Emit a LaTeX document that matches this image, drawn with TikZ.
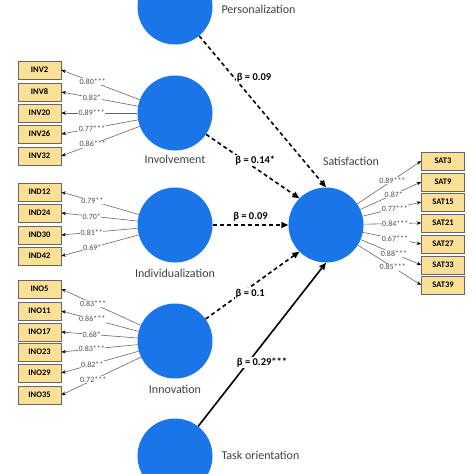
\documentclass[tikz,border=0pt]{standalone}
\usepackage{fontspec}
\setmainfont{Carlito}
\usetikzlibrary{arrows.meta}
\definecolor{lvblue}{RGB}{26,118,232}
\definecolor{mvfill}{RGB}{250,224,150}

\begin{document}
\begin{tikzpicture}[x=1pt,y=-1pt,
lv/.style={circle,fill=lvblue,minimum size=75pt,inner sep=0pt},
mv/.style={draw=black!60,fill=mvfill,line width=0.7pt,minimum width=43pt,minimum height=18pt,inner sep=0pt,font=\fontsize{8.5}{10}\selectfont\bfseries},
lbl/.style={text=black!75,font=\fontsize{12}{14}\selectfont},
ld/.style={fill=white,inner sep=0.6pt,text=black!70,font=\fontsize{8}{9}\selectfont},
beta/.style={fill=white,inner sep=1pt,font=\fontsize{10.5}{12}\selectfont\bfseries}]
\useasboundingbox (0,0) rectangle (474,474);
\clip (0,0) rectangle (474,474);
% latent variables
\node[lv] (L1) at (175,7) {};
\node[lv] (L2) at (175,113) {};
\node[lv] (L3) at (175,225) {};
\node[lv] (L4) at (175,341) {};
\node[lv] (L5) at (175,456) {};
\node[lv] (S) at (326,225) {};
\node[lbl,anchor=west] (P1) at (218,9) {Personalization};
\node[lbl] (P2) at (175,159) {Involvement};
\node[lbl] (P3) at (175,273) {Individualization};
\node[lbl] (P4) at (175,389) {Innovation};
\node[lbl,anchor=west] (P5) at (218,455) {Task orientation};
\node[lbl] (P6) at (351,161) {Satisfaction};
% indicators
\node[mv] (V1) at (39.5,70) {INV2};
\node[mv] (V2) at (39.5,92) {INV8};
\node[mv] (V3) at (39.5,113) {INV20};
\node[mv] (V4) at (39.5,134) {INV26};
\node[mv] (V5) at (39.5,156) {INV32};
\node[mv] (D1) at (39.5,192) {IND12};
\node[mv] (D2) at (39.5,213) {IND24};
\node[mv] (D3) at (39.5,235) {IND30};
\node[mv] (D4) at (39.5,256) {IND42};
\node[mv] (N1) at (39.5,289) {INO5};
\node[mv] (N2) at (39.5,311) {INO11};
\node[mv] (N3) at (39.5,332) {INO17};
\node[mv] (N4) at (39.5,352) {INO23};
\node[mv] (N5) at (39.5,373) {INO29};
\node[mv] (N6) at (39.5,395) {INO35};
\node[mv] (T1) at (443,161) {SAT3};
\node[mv] (T2) at (443,182) {SAT9};
\node[mv] (T3) at (443,202) {SAT15};
\node[mv] (T4) at (443,223) {SAT21};
\node[mv] (T5) at (443,244) {SAT27};
\node[mv] (T6) at (443,265) {SAT33};
\node[mv] (T7) at (443,285) {SAT39};
% loadings
\path[-{Stealth[length=4.5pt,width=3.5pt,color=black]},draw=black!60,line width=0.6pt]
(L2) edge node [ld,pos=0.6] {0.80***} (V1.east)
(L2) edge node [ld,pos=0.6] {0.82*} (V2.east)
(L2) edge node [ld,pos=0.6] {0.89***} (V3.east)
(L2) edge node [ld,pos=0.6] {0.77***} (V4.east)
(L2) edge node [ld,pos=0.6] {0.86***} (V5.east)
(L3) edge node [ld,pos=0.6] {0.79**} (D1.east)
(L3) edge node [ld,pos=0.6] {0.70*} (D2.east)
(L3) edge node [ld,pos=0.6] {0.81**} (D3.east)
(L3) edge node [ld,pos=0.6] {0.69*} (D4.east)
(L4) edge node [ld,pos=0.6] {0.83***} (N1.east)
(L4) edge node [ld,pos=0.6] {0.86***} (N2.east)
(L4) edge node [ld,pos=0.6] {0.68*} (N3.east)
(L4) edge node [ld,pos=0.6] {0.83***} (N4.east)
(L4) edge node [ld,pos=0.6] {0.82**} (N5.east)
(L4) edge node [ld,pos=0.6] {0.72***} (N6.east)
(S) edge node [ld,pos=0.55] {0.89***} (T1.west)
(S) edge node [ld,pos=0.55] {0.87*} (T2.west)
(S) edge node [ld,pos=0.55] {0.77***} (T3.west)
(S) edge node [ld,pos=0.55] {0.84***} (T4.west)
(S) edge node [ld,pos=0.55] {0.67***} (T5.west)
(S) edge node [ld,pos=0.55] {0.88***} (T6.west)
(S) edge node [ld,pos=0.55] {0.85***} (T7.west);
% paths
\path[-{Triangle[length=7pt,width=6pt]},line width=1.6pt,dash pattern=on 4pt off 3pt]
(L1) edge node [beta,pos=0.275,xshift=20pt] {β = 0.09} (S.north)
(L2) edge node [beta,pos=0.41,xshift=11pt] {β = 0.14*} (S.north west)
(L3) edge node [above,font=\fontsize{10.5}{12}\selectfont\bfseries] {β = 0.09} (S.west)
(L4) edge node [beta,pos=0.38,xshift=9pt] {β = 0.1} (S.south west);
\path[-{Triangle[length=7pt,width=6pt]},line width=1.6pt]
(L5) edge node [beta,pos=0.39,xshift=14pt] {β = 0.29***} (S.south);
\end{tikzpicture}
\end{document}
